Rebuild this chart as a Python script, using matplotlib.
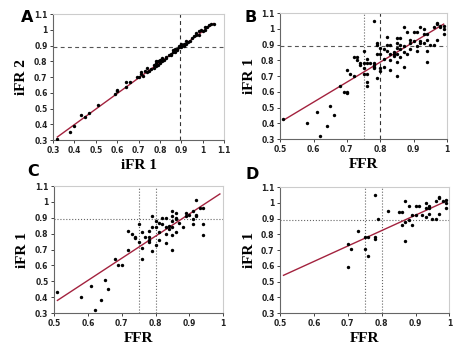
import numpy as np
import matplotlib
matplotlib.use("Agg")
import matplotlib.pyplot as plt

# ---- data ----
# panel A: iFR 1 vs iFR 2
a_x = [0.32, 0.38, 0.40, 0.43, 0.45, 0.47, 0.51, 0.59, 0.60, 0.60, 0.64, 0.64, 0.66, 0.69, 0.70,
       0.71, 0.71, 0.72, 0.73, 0.74, 0.74, 0.75, 0.76, 0.77, 0.77, 0.78, 0.78, 0.78, 0.79, 0.79,
       0.80, 0.80, 0.81, 0.81, 0.82, 0.83, 0.83, 0.84, 0.85, 0.85, 0.86, 0.86, 0.87, 0.87, 0.88,
       0.88, 0.89, 0.89, 0.90, 0.90, 0.90, 0.91, 0.91, 0.92, 0.92, 0.93, 0.94, 0.95, 0.96, 0.97,
       0.97, 0.98, 0.98, 0.99, 1.00, 1.01, 1.01, 1.02, 1.03, 1.04, 1.05]
a_y = [0.31, 0.35, 0.39, 0.46, 0.45, 0.47, 0.52, 0.59, 0.61, 0.62, 0.67, 0.64, 0.67, 0.70, 0.70,
       0.72, 0.73, 0.71, 0.74, 0.76, 0.73, 0.74, 0.75, 0.76, 0.78, 0.80, 0.77, 0.79, 0.78, 0.80,
       0.81, 0.79, 0.82, 0.80, 0.81, 0.82, 0.83, 0.84, 0.84, 0.85, 0.87, 0.86, 0.88, 0.86, 0.88,
       0.87, 0.89, 0.90, 0.91, 0.90, 0.89, 0.90, 0.91, 0.91, 0.93, 0.92, 0.93, 0.95, 0.96, 0.97,
       0.98, 0.99, 0.97, 1.00, 0.99, 1.00, 1.02, 1.02, 1.03, 1.04, 1.04]
a_fit_x = [0.32, 1.05]
a_fit_y = [0.32, 1.04]

# panel B: FFR vs iFR 1 (all)
b_x = [0.51, 0.58, 0.61, 0.62, 0.64, 0.65, 0.66, 0.68, 0.69, 0.70, 0.70, 0.70, 0.71, 0.72, 0.72,
       0.73, 0.73, 0.74, 0.74, 0.75, 0.75, 0.75, 0.75, 0.76, 0.76, 0.76, 0.76, 0.76, 0.77, 0.78,
       0.78, 0.78, 0.78, 0.78, 0.79, 0.79, 0.79, 0.79, 0.80, 0.80, 0.80, 0.80, 0.81, 0.81, 0.81,
       0.82, 0.82, 0.82, 0.83, 0.83, 0.83, 0.83, 0.84, 0.84, 0.84, 0.85, 0.85, 0.85, 0.85, 0.85,
       0.85, 0.86, 0.86, 0.86, 0.86, 0.87, 0.87, 0.87, 0.87, 0.88, 0.88, 0.89, 0.89, 0.89, 0.90,
       0.90, 0.91, 0.91, 0.91, 0.92, 0.92, 0.92, 0.93, 0.93, 0.93, 0.94, 0.94, 0.94, 0.94, 0.95,
       0.96, 0.96, 0.97, 0.97, 0.97, 0.98, 0.98, 0.99, 0.99, 0.99]
b_y = [0.43, 0.40, 0.47, 0.32, 0.38, 0.51, 0.45, 0.64, 0.60, 0.60, 0.59, 0.74, 0.71, 0.70, 0.82,
       0.82, 0.80, 0.78, 0.77, 0.86, 0.78, 0.75, 0.71, 0.81, 0.78, 0.71, 0.66, 0.64, 0.78, 1.05,
       0.78, 0.77, 0.76, 0.75, 0.91, 0.90, 0.84, 0.69, 0.88, 0.84, 0.73, 0.75, 0.87, 0.81, 0.76,
       0.95, 0.90, 0.86, 0.90, 0.84, 0.80, 0.74, 0.85, 0.83, 0.84, 0.94, 0.91, 0.88, 0.84, 0.79,
       0.70, 0.94, 0.90, 0.87, 0.82, 1.01, 0.89, 0.85, 0.76, 0.98, 0.84, 0.93, 0.91, 0.87, 0.98,
       0.92, 0.98, 0.86, 0.89, 1.01, 0.92, 0.91, 1.00, 0.97, 0.91, 0.97, 0.93, 0.86, 0.79, 0.90,
       1.01, 0.90, 1.04, 1.03, 0.93, 1.02, 1.01, 1.02, 1.00, 0.97]
b_fit_x = [0.51, 0.99]
b_fit_y = [0.42, 1.03]

# panel C
c_x = [0.51, 0.58, 0.61, 0.62, 0.64, 0.65, 0.66, 0.68, 0.69, 0.70, 0.72, 0.72, 0.73, 0.74, 0.74,
       0.75, 0.75, 0.76, 0.76, 0.76, 0.77, 0.78, 0.78, 0.78, 0.78, 0.79, 0.79, 0.79, 0.80, 0.80,
       0.80, 0.81, 0.81, 0.81, 0.82, 0.82, 0.83, 0.83, 0.83, 0.83, 0.84, 0.84, 0.85, 0.85, 0.85,
       0.85, 0.85, 0.85, 0.86, 0.86, 0.86, 0.86, 0.87, 0.88, 0.89, 0.89, 0.90, 0.91, 0.91, 0.91,
       0.92, 0.92, 0.92, 0.93, 0.94, 0.94, 0.94]
c_y = [0.43, 0.40, 0.47, 0.32, 0.38, 0.51, 0.45, 0.64, 0.60, 0.60, 0.82, 0.70, 0.80, 0.78, 0.77,
       0.86, 0.75, 0.81, 0.71, 0.64, 0.78, 0.82, 0.78, 0.76, 0.75, 0.91, 0.84, 0.69, 0.88, 0.84,
       0.73, 0.87, 0.81, 0.76, 0.90, 0.86, 0.90, 0.84, 0.80, 0.74, 0.85, 0.83, 0.94, 0.91, 0.88,
       0.84, 0.79, 0.70, 0.93, 0.90, 0.89, 0.81, 0.87, 0.84, 0.93, 0.91, 0.92, 0.94, 0.89, 0.86,
       1.01, 0.92, 0.91, 0.96, 0.96, 0.86, 0.79]
c_fit_x = [0.51, 0.99]
c_fit_y = [0.38, 1.05]

# panel D
d_x = [0.70, 0.70, 0.71, 0.73, 0.75, 0.75, 0.76, 0.76, 0.78, 0.78, 0.78, 0.79, 0.82, 0.85, 0.86,
       0.86, 0.87, 0.87, 0.87, 0.88, 0.88, 0.89, 0.89, 0.90, 0.90, 0.91, 0.92, 0.93, 0.93, 0.93,
       0.94, 0.94, 0.94, 0.95, 0.96, 0.96, 0.97, 0.97, 0.97, 0.98, 0.99, 0.99, 0.99]
d_y = [0.74, 0.59, 0.71, 0.82, 0.78, 0.71, 0.78, 0.66, 1.05, 0.78, 0.77, 0.90, 0.95, 0.94, 0.94,
       0.86, 1.01, 0.88, 0.76, 0.98, 0.89, 0.92, 0.86, 0.98, 0.92, 0.98, 0.92, 1.00, 0.97, 0.91,
       0.98, 0.97, 0.93, 0.90, 1.01, 0.90, 1.04, 1.03, 0.93, 1.01, 1.02, 1.00, 0.97]
d_fit_x = [0.51, 0.99]
d_fit_y = [0.54, 1.01]

line_col = '#a3223e'
serif = 'Liberation Serif'

fig = plt.figure(figsize=(4.74, 3.53), dpi=100)

def panel(rect, x, y, fx, fy, xlim, xticks, xlab, ylab, vlines, hline, ls_v, ls_h):
    ax = fig.add_axes(rect)
    for v, ls in zip(vlines, ls_v):
        col = '#666666' if ls == ':' else '#333333'
        ax.axvline(v, color=col, lw=0.8, ls=ls, zorder=1)
    col = '#666666' if ls_h == ':' else '#555555'
    ax.axhline(hline, color=col, lw=0.8, ls=ls_h, zorder=1)
    ax.plot(fx, fy, color=line_col, lw=1.0, zorder=2)
    ax.scatter(x, y, s=6, color='black', zorder=3, linewidths=0)
    ax.set_xlim(xlim)
    ax.set_ylim(0.3, 1.1)
    ax.set_xticks(xticks)
    ax.set_xticklabels([('%g' % t) for t in xticks])
    yt = [0.3, 0.4, 0.5, 0.6, 0.7, 0.8, 0.9, 1.0, 1.1]
    ax.set_yticks(yt)
    ax.set_yticklabels([('%g' % t) for t in yt])
    ax.tick_params(labelsize=5.5, length=2.5, width=0.6, pad=1.5, colors='#222222')
    for t in ax.get_xticklabels() + ax.get_yticklabels():
        t.set_fontweight('bold')
    for s in ['top', 'right']:
        ax.spines[s].set_color('#cccccc')
    for s in ['left', 'bottom']:
        ax.spines[s].set_color('#666666')
    for s in ax.spines.values():
        s.set_linewidth(0.8)
    ax.set_xlabel(xlab, family=serif, fontweight='bold', fontsize=11, labelpad=3)
    ax.set_ylabel(ylab, family=serif, fontweight='bold', fontsize=11, labelpad=4)
    return ax

dash = (0, (3.5, 3))
ffr_ticks = [0.5, 0.6, 0.7, 0.8, 0.9, 1.0]
panel([0.112, 0.603, 0.361, 0.357], a_x, a_y, a_fit_x, a_fit_y, (0.3, 1.1),
      [0.3, 0.4, 0.5, 0.6, 0.7, 0.8, 0.9, 1.0, 1.1], 'iFR 1', 'iFR 2',
      [0.894], 0.89, [dash], dash)
panel([0.591, 0.606, 0.352, 0.357], b_x, b_y, b_fit_x, b_fit_y, (0.5, 1.0),
      ffr_ticks, 'FFR', 'iFR 1',
      [0.75, 0.80], 0.89, [':', dash], dash)
panel([0.114, 0.113, 0.357, 0.360], c_x, c_y, c_fit_x, c_fit_y, (0.5, 1.0),
      ffr_ticks, 'FFR', 'iFR 1',
      [0.75, 0.80], 0.89, [':', ':'], ':')
panel([0.591, 0.113, 0.357, 0.357], d_x, d_y, d_fit_x, d_fit_y, (0.5, 1.0),
      ffr_ticks, 'FFR', 'iFR 1',
      [0.75, 0.80], 0.89, [':', ':'], ':')

for lab, px, py in [('A', 27, 17), ('B', 251, 17), ('C', 33, 172), ('D', 252, 174)]:
    fig.text(px / 474, 1 - py / 353, lab, fontsize=11.5, fontweight='bold',
             ha='center', va='center')

fig.savefig('out.png', dpi=100)
